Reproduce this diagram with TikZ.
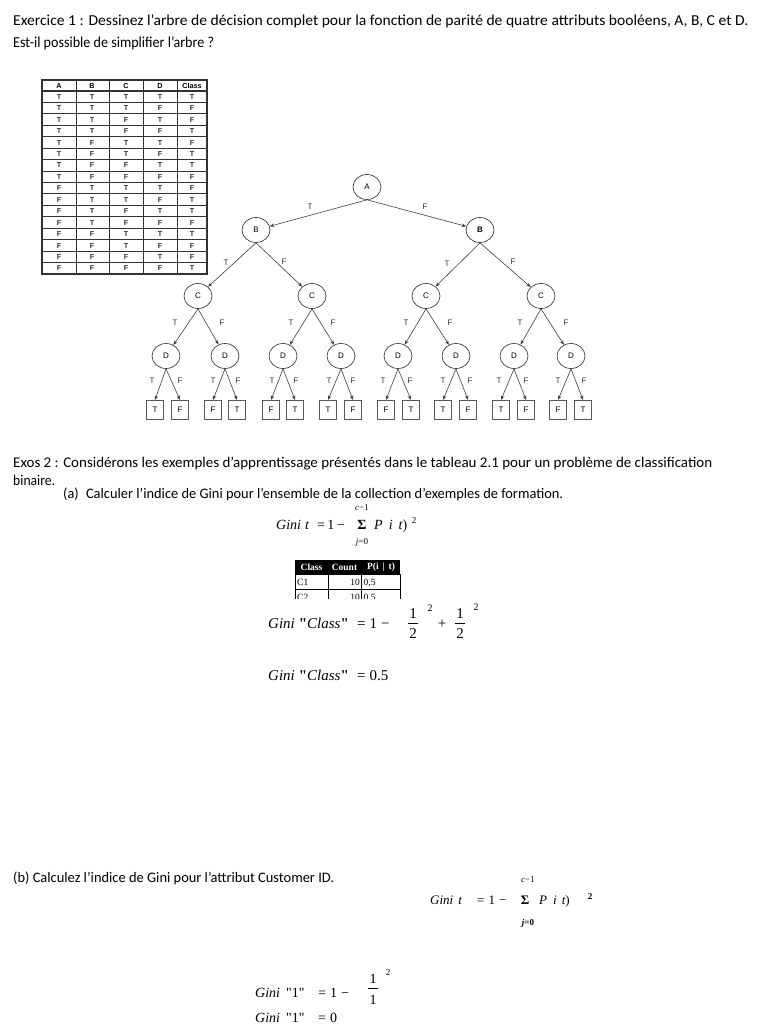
\documentclass[tikz,border=0pt]{standalone}
\usepackage{fontspec}
\usepackage{graphicx}
\setmainfont{Carlito}
\newfontfamily\arialf{Liberation Sans}
\newfontfamily\timesf{Liberation Serif}
\usetikzlibrary{arrows.meta,shapes.geometric}
\newcommand{\fitw}[2]{\resizebox{#1}{\height}{#2}}
\begin{document}
\begin{tikzpicture}[x=1pt,y=-1pt,
  txt/.style={anchor=base west, inner sep=0pt, font=\fontsize{14.5}{17}\selectfont},
  tnode/.style={ellipse, draw=black!75, line width=0.7pt, minimum width=28pt, minimum height=25pt, inner sep=0pt, font=\arialf\fontsize{8}{9}\selectfont},
  leaf/.style={rectangle, draw=black!65, line width=1.1pt, minimum width=17pt, minimum height=19pt, inner sep=0pt, font=\arialf\fontsize{8}{9}\selectfont},
  edge/.style={draw=black!75, line width=0.6pt, -{Stealth[length=4.5pt,width=3.5pt]}},
  lbl/.style={font=\arialf\fontsize{8}{9}\selectfont, inner sep=0pt, text=black!80},
  cell/.style={font=\arialf\bfseries\fontsize{7.2}{8}\selectfont, inner sep=0pt, text=black!80},
  gcell/.style={font=\timesf\fontsize{9.5}{11}\selectfont, inner sep=0pt},
  fm/.style={inner sep=0pt, font=\timesf\fontsize{#1}{#1}\selectfont},
  sub/.style={inner sep=0pt, font=\timesf\fontsize{#1}{#1}\selectfont},
  bar/.style={line width=0.6pt}
]
\useasboundingbox (0,0) rectangle (768,1024);
\clip (0,0) rectangle (768,1024);
\fill[white] (0,0) rectangle (768,1024);

% ---------- text lines ----------
\node[txt, font=\fontsize{15.2}{17}\selectfont] (l1) at (13,26) {\fitw{735pt}{Exercice 1 : Dessinez l'arbre de décision complet pour la fonction de parité de quatre attributs booléens, A, B, C et D.}};
\node[txt, font=\fontsize{15.2}{17}\selectfont] (l2) at (13,48) {\fitw{201pt}{Est-il possible de simplifier l'arbre ?}};
\node[txt, font=\fontsize{14.8}{17}\selectfont] (l3) at (13,467) {\fitw{699pt}{Exos 2 : Considérons les exemples d'apprentissage présentés dans le tableau 2.1 pour un problème de classification}};
\node[txt, font=\fontsize{14.8}{17}\selectfont] (l4) at (13,485) {\fitw{42pt}{binaire.}};
\node[txt] (l5) at (63,498) {\fitw{500pt}{(a)\enspace Calculer l'indice de Gini pour l'ensemble de la collection d'exemples de formation.}};
\node[txt] (l6) at (13,882) {\fitw{321pt}{(b) Calculez l'indice de Gini pour l'attribut Customer ID.}};

% ---------- truth table ----------
\draw[black!80, line width=1.1pt] (42,80) rectangle (207,274);
\foreach \xx in {76,109,143,177} \draw[black!80, line width=0.8pt] (\xx,80) -- (\xx,274);
\foreach \k in {0,...,15} \draw[black!80, line width=1.1pt] (42,91+11.4375*\k) -- (207,91+11.4375*\k);
\foreach \h [count=\j] in {A,B,C,D,Class} {
  \pgfmathsetmacro\cx{{59,92,126,160,192}[\j-1]}
  \node[cell, text=black] (h-\j) at (\cx,86) {\h};
}
\foreach \row [count=\i] in {{T,T,T,T,T},{T,T,T,F,F},{T,T,F,T,F},{T,T,F,F,T},{T,F,T,T,F},{T,F,T,F,T},{T,F,F,T,T},{T,F,F,F,F},{F,T,T,T,F},{F,T,T,F,T},{F,T,F,T,T},{F,T,F,F,F},{F,F,T,T,T},{F,F,T,F,F},{F,F,F,T,F},{F,F,F,F,T}} {
  \foreach \v [count=\j] in \row {
    \pgfmathsetmacro\cx{{59,92,126,160,192}[\j-1]}
    \node[cell] (t-\i-\j) at (\cx,91+11.4375*\i-5.6) {\v};
  }
}

% ---------- decision tree ----------
\node[tnode] (A) at (367,187) {A};
\node[tnode] (B1) at (256,230) {B};
\node[tnode] (B2) at (480,230) {\bfseries B};
\foreach \xx [count=\i] in {198,312,426,541} \node[tnode] (C\i) at (\xx,296) {C};
\foreach \xx [count=\i] in {166,225,283,341,398,456,514,571} \node[tnode] (D\i) at (\xx,356) {D};
\foreach \xx/\t [count=\i] in {155/T,180/F,213/F,237/T,271/F,295/T,328/T,353/F,386/F,411/T,443/T,468/F,501/T,526/F,558/F,583/T}
  \node[leaf] (L\i) at (\xx,410) {\t};

\draw[edge] (A.south) -- (B1);
\draw[edge] (A.south) -- (B2);
\draw[edge] (B1.south) -- (C1);
\draw[edge] (B1.south) -- (C2);
\draw[edge] (B2.south) -- (C3);
\draw[edge] (B2.south) -- (C4);
\foreach \c/\da/\db in {1/1/2,2/3/4,3/5/6,4/7/8} {
  \draw[edge] (C\c.south) -- (D\da);
  \draw[edge] (C\c.south) -- (D\db);
}
\foreach \d [evaluate=\d as \la using int(2*\d-1), evaluate=\d as \lb using int(2*\d)] in {1,...,8} {
  \draw[edge] (D\d.south) -- (L\la.north);
  \draw[edge] (D\d.south) -- (L\lb.north);
}

% edge labels
\node[lbl] (eA1) at (310,207) {T};
\node[lbl] (eA2) at (425,207) {F};
\node[lbl] (eB1) at (226,263) {T};
\node[lbl] (eB2) at (284,262) {F};
\node[lbl] (eB3) at (447,264) {T};
\node[lbl] (eB4) at (513,262) {F};
\foreach \tx/\fx [count=\i] in {175/222,291/333,406/450,520/566} {
  \node[lbl] (eCT\i) at (\tx,323) {T};
  \node[lbl] (eCF\i) at (\fx,323) {F};
}
\foreach \tx/\fx [count=\i] in {152/180,213/238,272/296,329/353,383/410,443/470,499/526,558/584} {
  \node[lbl] (eDT\i) at (\tx,381) {T};
  \node[lbl] (eDF\i) at (\fx,381) {F};
}

% ---------- formula 1 ----------
\node[fm=14, anchor=base west] (g1a) at (276,529) {\itshape Gini\hspace{4pt}t};
\node[fm=14, anchor=base west] (g1b) at (317,529) {=\,1\,−};
\node[fm=14, anchor=base] (g1s) at (362,529) {\bfseries Σ};
\node[sub=9] (g1u) at (362,508) {\itshape c\upshape −1};
\node[sub=9] (g1l) at (362,542) {\itshape j\upshape =0};
\node[fm=14, anchor=base west] (g1c) at (374,529) {\itshape P\hspace{6pt}i\hspace{6pt}t\upshape )};
\node[sub=9] (g1e) at (414,521) {2};

% ---------- Gini table ----------
\begin{scope}
\clip (290,555) rectangle (410,598);
\fill[black] (295,560) rectangle (400,574);
\node[gcell, text=white, font=\timesf\bfseries\fontsize{9.5}{11}\selectfont] (gh1) at (311.5,567) {Class};
\node[gcell, text=white, font=\timesf\bfseries\fontsize{9.5}{11}\selectfont] (gh2) at (344.5,567) {Count};
\node[gcell, text=white, font=\timesf\bfseries\fontsize{9.5}{11}\selectfont] (gh3) at (381,567) {P(i \,|\, t)};
\draw[black, line width=0.6pt] (295,574) rectangle (400,604);
\draw[black, line width=0.6pt] (295,589) -- (400,589);
\draw[black, line width=0.6pt] (328,574) -- (328,604);
\draw[black, line width=1pt] (361.5,560) -- (361.5,604);
\node[gcell, anchor=base west] (gc1) at (297,585) {C1};
\node[gcell, anchor=base east] (gc2) at (360,585) {10};
\node[gcell, anchor=base west] (gc3) at (363.5,585) {0,5};
\node[gcell, anchor=base west] (gc4) at (297,600) {C2};
\node[gcell, anchor=base east] (gc5) at (360,600) {10};
\node[gcell, anchor=base west] (gc6) at (363.5,600) {0,5};
\end{scope}

% ---------- formula 2 ----------
\node[fm=15, anchor=base west] (g2a) at (268,628) {{\itshape Gini\hspace{4pt}}{\bfseries"}{\itshape Class}{\bfseries"}};
\node[fm=15, anchor=base west] (g2b) at (357,628) {=\hspace{4pt}1\hspace{4pt}−};
\node[fm=15, anchor=base] (g2n1) at (413,618) {1};
\node[fm=15, anchor=base] (g2d1) at (413,638) {2};
\draw[bar] (408,623) -- (418,623);
\node[sub=10] (g2e1) at (430,608) {2};
\node[fm=15, anchor=base] (g2p) at (442,628) {+};
\node[fm=15, anchor=base] (g2n2) at (460,618) {1};
\node[fm=15, anchor=base] (g2d2) at (460,638) {2};
\draw[bar] (455,623) -- (465,623);
\node[sub=10] (g2e2) at (476,607) {2};

% ---------- formula 3 ----------
\node[fm=15, anchor=base west] (g3a) at (268,680) {{\itshape Gini\hspace{4pt}}{\bfseries"}{\itshape Class}{\bfseries"}};
\node[fm=15, anchor=base west] (g3b) at (357,680) {=\hspace{4pt}0.5};

% ---------- formula 4 ----------
\node[fm=13, anchor=base west] (g4a) at (430,904) {\itshape Gini\hspace{5pt}t};
\node[fm=13, anchor=base west] (g4b) at (477,904) {=\hspace{4pt}1\hspace{4pt}−};
\node[fm=13, anchor=base] (g4s) at (525,904) {\bfseries Σ};
\node[sub=9] (g4u) at (528,880) {\itshape c\upshape −1};
\node[sub=9] (g4l) at (528,923) {\bfseries\itshape j\upshape =0};
\node[fm=13, anchor=base west] (g4c) at (539,904) {\itshape P\hspace{6pt}i\hspace{5pt}t\upshape )};
\node[sub=9] (g4e) at (590,897) {\bfseries 2};

% ---------- formula 5 ----------
\node[fm=14, anchor=base west] (g5a) at (255,997) {{\itshape Gini\hspace{6pt}}"1"};
\node[fm=14, anchor=base west] (g5b) at (318,997) {=\hspace{4pt}1\hspace{4pt}−};
\node[fm=14, anchor=base] (g5n) at (373,983) {1};
\node[fm=14, anchor=base] (g5d) at (373,1004) {1};
\draw[bar] (368,988.5) -- (378,988.5);
\node[sub=9] (g5e) at (388,973) {2};

% ---------- formula 6 ----------
\node[fm=14, anchor=base west] (g6a) at (255,1022) {{\itshape Gini\hspace{6pt}}"1"};
\node[fm=14, anchor=base west] (g6b) at (318,1022) {=\hspace{4pt}0};
\end{tikzpicture}
\end{document}
